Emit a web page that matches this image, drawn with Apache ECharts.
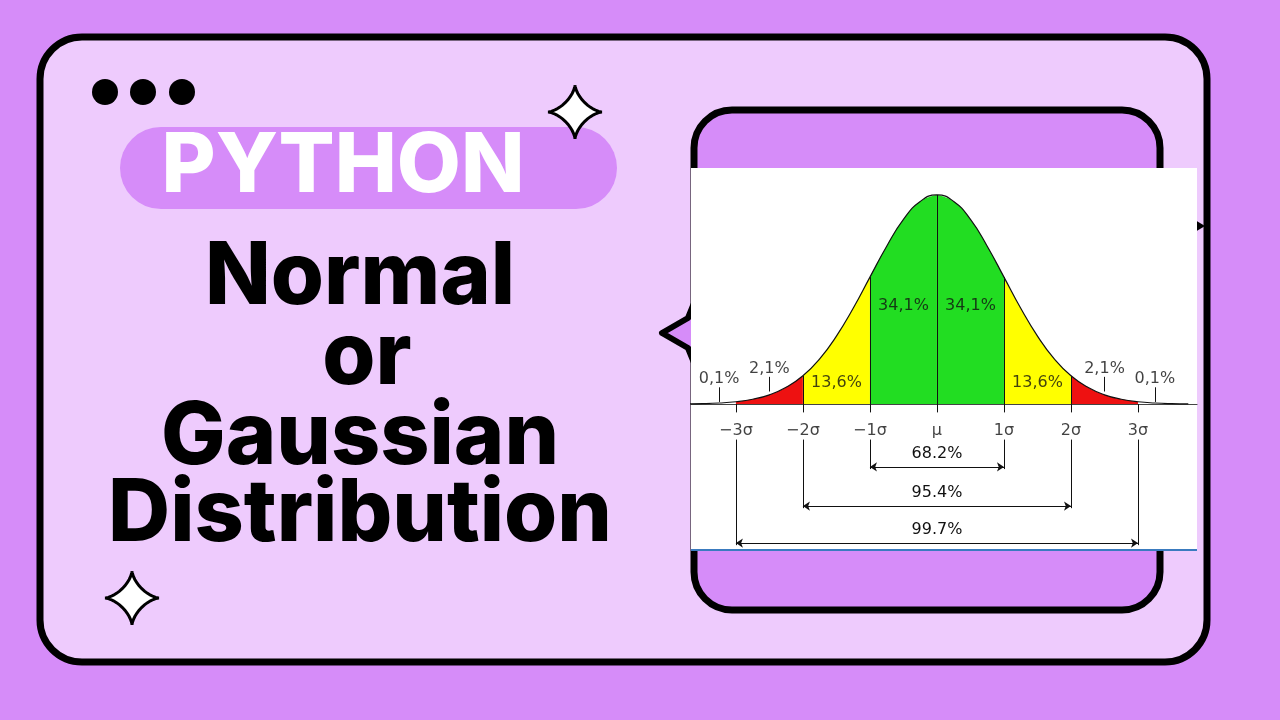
<!DOCTYPE html>
<html><head><meta charset="utf-8">
<script src="https://cdn.jsdelivr.net/npm/echarts@6/dist/echarts.min.js"></script>
<style>html,body{margin:0;padding:0;background:#d68cf9}#c{width:1280px;height:720px}</style>
</head><body><div id="c"></div>
<script>
// curve (height relative to peak)
var curveX = [-3.75,-3.5,-3.25,-3,-2.75,-2.5,-2.25,-2,-1.75,-1.5,-1.25,-1,-0.75,-0.5,-0.25,0,
              0.25,0.5,0.75,1,1.25,1.5,1.75,2,2.25,2.5,2.75,3,3.25,3.5,3.75];
var curveY = [0.001,0.002,0.005,0.011,0.023,0.044,0.08,0.135,0.216,0.325,0.458,0.607,0.755,0.883,0.969,1,
              0.969,0.883,0.755,0.607,0.458,0.325,0.216,0.135,0.08,0.044,0.023,0.011,0.005,0.002,0.001];
var bands = [[-3,-2,'#ee1111'],[-2,-1,'#ffff00'],[-1,0,'#22dd22'],[0,1,'#22dd22'],[1,2,'#ffff00'],[2,3,'#ee1111']];
var sigmaPos = [-3,-2,-1,0,1,2,3];
var sigmaLabels = ['\u22123\u03c3','\u22122\u03c3','\u22121\u03c3','\u03bc','1\u03c3','2\u03c3','3\u03c3'];
var bandLabels = [[-0.5,0.47,'34,1%'],[0.5,0.47,'34,1%'],[-1.5,0.1,'13,6%'],[1.5,0.1,'13,6%'],
                  [-2.5,0.17,'2,1%'],[2.5,0.17,'2,1%'],[-3.25,0.12,'0,1%'],[3.25,0.12,'0,1%']];
var ranges = [[1,-0.301,'68.2%'],[2,-0.488,'95.4%'],[3,-0.665,'99.7%']];

function yAt(x){ return curveY[curveX.indexOf(x)]; }
var series = [];
bands.forEach(function(b){
  var d = [];
  curveX.forEach(function(x,i){ if (x>=b[0] && x<=b[1]) d.push([x,curveY[i]]); });
  series.push({type:'line',data:d,smooth:true,symbol:'none',lineStyle:{width:0},areaStyle:{color:b[2],opacity:1},silent:true});
});
series.push({type:'line',data:curveX.map(function(x,i){return [x,curveY[i]];}),smooth:true,symbol:'none',
  lineStyle:{color:'#111',width:1.2},z:5});
var segs = [];
[-2,-1,0,1,2].forEach(function(x){ segs.push([{coord:[x,0]},{coord:[x,yAt(x)]}]); });
sigmaPos.forEach(function(x){ segs.push([{coord:[x,0]},{coord:[x,-0.04]}]); });
ranges.forEach(function(r){
  segs.push([{coord:[-r[0],-0.17]},{coord:[-r[0],r[1]-0.01]}]);
  segs.push([{coord:[r[0],-0.17]},{coord:[r[0],r[1]-0.01]}]);
});
[-2.5,2.5].forEach(function(x){ segs.push([{coord:[x,0.13]},{coord:[x,0.06]}]); });
[-3.25,3.25].forEach(function(x){ segs.push([{coord:[x,0.08]},{coord:[x,0.01]}]); });
series.push({type:'line',data:[],z:6,markLine:{silent:true,symbol:'none',label:{show:false},
  lineStyle:{color:'#111',width:1,type:'solid'},data:segs}});
series.push({type:'line',data:[],z:6,markLine:{silent:true,symbol:['arrow','arrow'],symbolSize:7,
  lineStyle:{color:'#111',width:1.2,type:'solid'},
  label:{show:true,position:'middle',formatter:function(p){return p.name;},color:'#111',fontSize:16,fontFamily:'DejaVu Sans'},
  data:ranges.map(function(r){return [{name:r[2],coord:[-r[0],r[1]]},{coord:[r[0],r[1]]}];})}});
series.push({type:'scatter',symbolSize:0,z:7,data:sigmaPos.map(function(x,i){return {value:[x,-0.13],name:sigmaLabels[i]};}),
  label:{show:true,position:'inside',formatter:'{b}',color:'#111',fontSize:16,fontFamily:'DejaVu Sans'}});
series.push({type:'scatter',symbolSize:0,z:7,data:bandLabels.map(function(b){return {value:[b[0],b[1]],name:b[2]};}),
  label:{show:true,position:'inside',formatter:'{b}',color:'#111',fontSize:16,fontFamily:'DejaVu Sans'}});

function star(cx,cy,r){
  var pts=[], n=64;
  for (var i=0;i<n;i++){
    var t=i/n*Math.PI*2, c=Math.cos(t), s=Math.sin(t);
    pts.push([cx+r*c*c*c, cy+r*s*s*s]);
  }
  return pts;
}
var titleFont = {fontFamily:'Inter',fontWeight:800,fontSize:86,fill:'#000',align:'center',verticalAlign:'middle'};
function txt(t,x,y,extra){ return {type:'text',z:-8,style:Object.assign({},titleFont,{text:t,x:x,y:y},extra||{})}; }
var graphics = [
  {type:'rect',shape:{x:40,y:37,width:1167,height:625,r:42},style:{fill:'#eecbfd',stroke:'#000',lineWidth:7},z:-10},
  {type:'circle',shape:{cx:105,cy:92,r:13},style:{fill:'#000'},z:-9},
  {type:'circle',shape:{cx:143,cy:92,r:13},style:{fill:'#000'},z:-9},
  {type:'circle',shape:{cx:182,cy:92,r:13},style:{fill:'#000'},z:-9},
  {type:'rect',shape:{x:120,y:127,width:497,height:82,r:41},style:{fill:'#d68cf9'},z:-9},
  {type:'polygon',shape:{points:star(575,112,27)},style:{fill:'#fff',stroke:'#000',lineWidth:3},z:-8},
  {type:'polygon',shape:{points:star(132,598,27)},style:{fill:'#fff',stroke:'#000',lineWidth:3},z:-8},
  txt('PYTHON',343,167,{fill:'#fff',fontSize:83}),
  txt('Normal',360,278),
  txt('or',367,358),
  txt('Gaussian',360,438),
  txt('Distribution',360,515),
  {type:'rect',shape:{x:694,y:110,width:466,height:500,r:38},style:{fill:'#d68cf9',stroke:'#000',lineWidth:7},z:-9},
  {type:'polygon',shape:{points:[[697,296],[688,318],[662,333],[688,348],[697,370]]},style:{fill:'#d68cf9',stroke:'#000',lineWidth:6,lineJoin:'round'},z:-8},
  {type:'polygon',shape:{points:[[1195,220],[1205,226],[1195,232]]},style:{fill:'#000'},z:-8},
  {type:'rect',shape:{x:691,y:168,width:506,height:383},style:{fill:'#fff'},z:-7},
  {type:'rect',shape:{x:691,y:549,width:506,height:2},style:{fill:'#3a7bbf'},z:-6}
];

var chart = echarts.init(document.getElementById('c'));
chart.setOption({
  backgroundColor:'#d68cf9',
  animation:false,
  graphic:graphics,
  grid:{left:691,right:83,top:168,bottom:169},
  xAxis:{type:'value',min:-3.67,max:3.88,axisLine:{onZero:true,lineStyle:{color:'#444',width:1.2}},
         axisTick:{show:false},axisLabel:{show:false},splitLine:{show:false}},
  yAxis:{type:'value',min:-0.703,max:1.129,show:false,splitLine:{show:false}},
  series:series
});
</script></body></html>
